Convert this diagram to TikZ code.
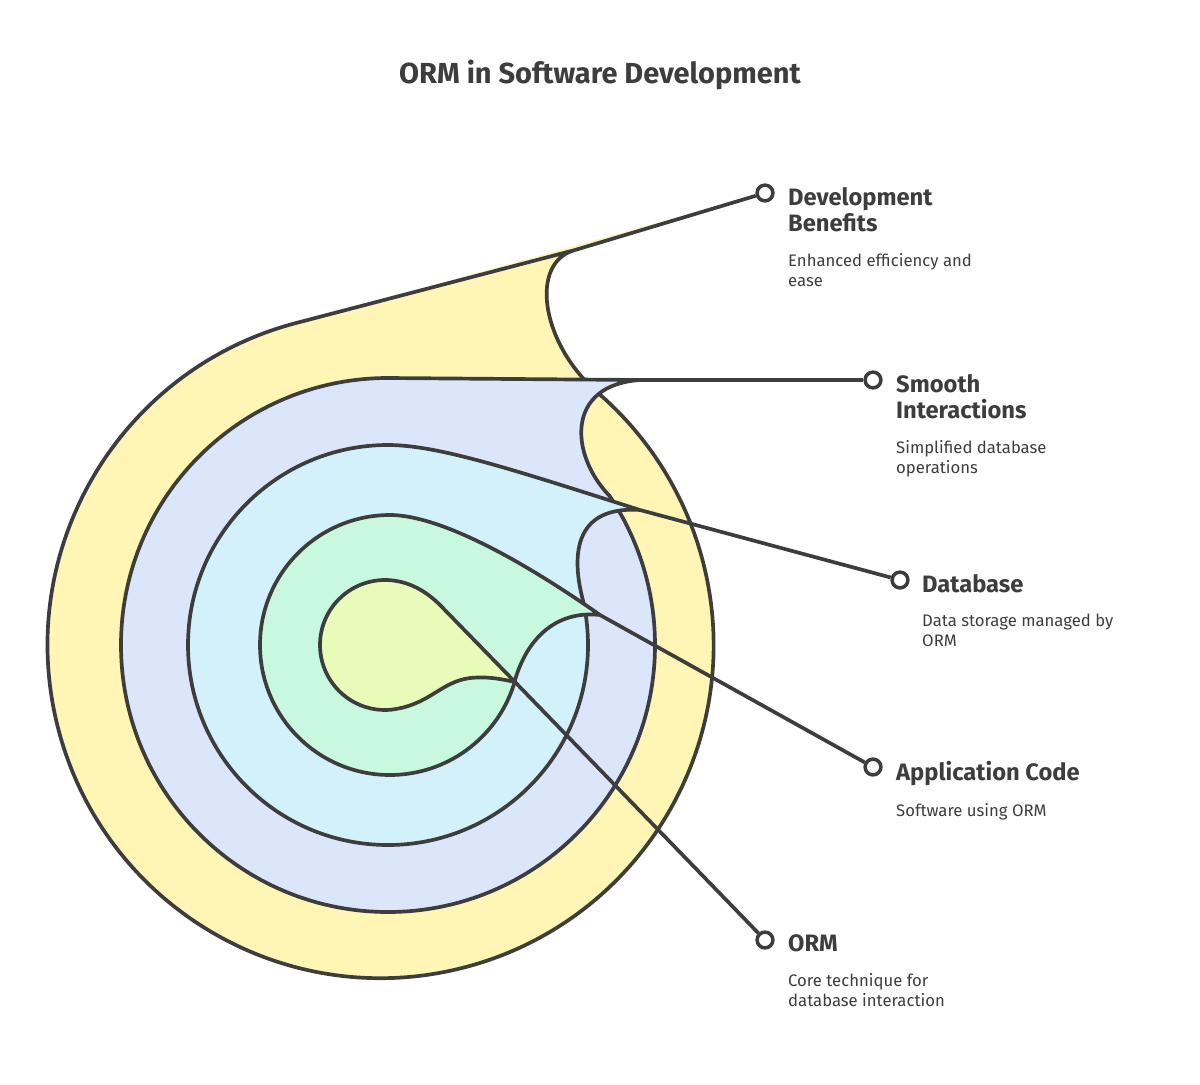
\documentclass[tikz,border=0pt]{standalone}
\usepackage{fontspec}
\setmainfont{Fira Sans}
\definecolor{ringyellow}{HTML}{FFF5B5}
\definecolor{ringblue}{HTML}{DCE6FB}
\definecolor{ringcyan}{HTML}{D3F1FB}
\definecolor{ringgreen}{HTML}{C8F8DD}
\definecolor{ringcore}{HTML}{E8FBB9}
\definecolor{ink}{HTML}{3D3D3D}
\tikzset{
	ring/.style={draw=ink, line width=2.1pt, line join=round},
	lead/.style={draw=ink, line width=2.1pt},
	dot/.style={circle, draw=ink, line width=2pt, fill=white, inner sep=0pt, minimum size=9pt},
	head/.style={anchor=north west, align=left, text=ink, font=\bfseries\fontsize{13.5}{15}\selectfont},
	desc/.style={anchor=north west, align=left, text=ink, font=\fontsize{9.5}{11.5}\selectfont}
}
\begin{document}
\begin{tikzpicture}[x=0.02cm, y=-0.02cm]
		\useasboundingbox (0, 0) rectangle (1200, 1085);
		\node[text=ink, font=\bfseries\fontsize{16.5}{18}\selectfont] (title) at (600, 75) {ORM in Software Development};
		% rings, outer to inner
		\fill[ringyellow] (765, 193) -- (300, 322) arc[start angle=256, end angle=-50, radius=333]
			.. controls (540, 340) and (530, 262) .. (575, 250) -- cycle;
		\draw[ring] (575, 250) -- (300, 322) arc[start angle=256, end angle=-50, radius=333]
			.. controls (540, 340) and (530, 262) .. (575, 250);
		\coordinate (benefits-end) at (575, 250);
		\draw[ring, fill=ringblue] (640, 380) -- (388, 378) arc[start angle=270, end angle=-34, radius=267]
			.. controls (570, 455) and (565, 385) .. (640, 380);
		\coordinate (smooth-end) at (640, 380);
		\draw[ring, fill=ringcyan] (640, 510) .. controls (520, 472) and (440, 445) .. (388, 445)
			arc[start angle=270, end angle=-13, radius=200]
			.. controls (575, 570) and (565, 505) .. (640, 510);
		\coordinate (database-end) at (640, 510);
		\draw[ring, fill=ringgreen] (600, 615) .. controls (500, 545) and (430, 515) .. (390, 515)
			arc[start angle=270, end angle=18, radius=130]
			.. controls (525, 640) and (555, 610) .. (600, 615);
		\coordinate (app-end) at (600, 615);
		\draw[ring, fill=ringcore] (515, 682) -- (440, 605) .. controls (420, 585) and (400, 580) .. (385, 580)
			arc[start angle=270, end angle=85, radius=65]
			.. controls (430, 705) and (440, 682) .. (470, 678) .. controls (490, 676) and (505, 680) .. (515, 682);
		\coordinate (orm-end) at (515, 682);
		% dots and labels
		\node[dot] (benefits) at (765, 193) {};
		\node[dot] (smooth) at (873, 380) {};
		\node[dot] (database) at (900, 580) {};
		\node[dot] (app) at (873, 767) {};
		\node[dot] (orm) at (765, 940) {};
		\draw[lead] (benefits-end) -- (benefits);
		\draw[lead] (smooth-end) -- (smooth);
		\draw[lead] (database-end) -- (database);
		\draw[lead] (app-end) -- (app);
		\draw[lead] (orm-end) -- (orm);
		\node[head] (benefits-head) at (782, 181) {Development\\Benefits};
		\node[desc] (benefits-desc) at (782, 247) {Enhanced efficiency and\\ease};
		\node[head] (smooth-head) at (890, 368) {Smooth\\Interactions};
		\node[desc] (smooth-desc) at (890, 434) {Simplified database\\operations};
		\node[head] (database-head) at (916, 568) {Database};
		\node[desc] (database-desc) at (916, 608) {Data storage managed by\\ORM};
		\node[head] (app-head) at (890, 755) {Application Code};
		\node[desc] (app-desc) at (890, 797) {Software using ORM};
		\node[head] (orm-head) at (782, 928) {ORM};
		\node[desc] (orm-desc) at (782, 967) {Core technique for\\database interaction};
	\end{tikzpicture}
\end{document}
